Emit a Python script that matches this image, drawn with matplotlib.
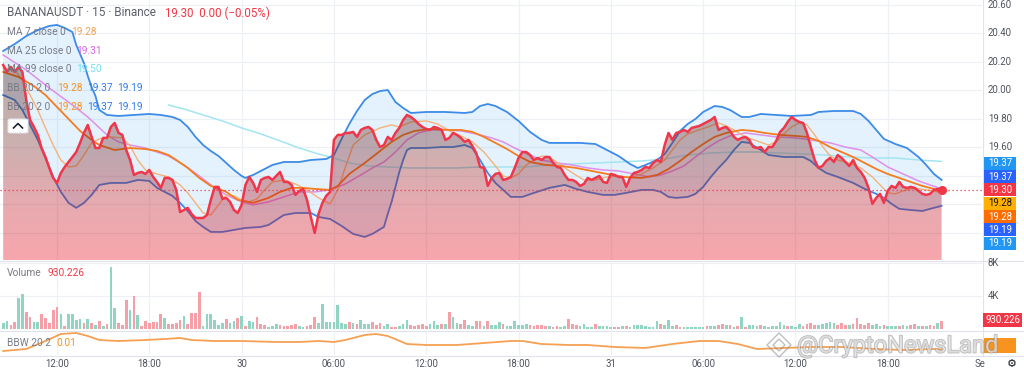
import numpy as np
import matplotlib
matplotlib.use("Agg")
import matplotlib.pyplot as plt
from matplotlib.patches import Rectangle, FancyBboxPatch, Polygon
from matplotlib.lines import Line2D
from matplotlib.transforms import blended_transform_factory as blend
import matplotlib.patheffects as pe

plt.rcParams['font.family'] = ['Roboto', 'DejaVu Sans']

# ---------------------------------------------------------------- data
symbol_title = "BANANAUSDT · 15 · Binance"
change_text = "19.30  0.00 (\u22120.05%)"

time_tick_idx = [14, 38, 62, 86, 110, 134, 158, 182, 206, 230, 254]
time_tick_labels = ["12:00", "18:00", "30", "06:00", "12:00", "18:00", "31",
                    "06:00", "12:00", "18:00", "Se"]
price_ticks = [20.60, 20.40, 20.20, 20.00, 19.80, 19.60]
price_grid = [20.6, 20.4, 20.2, 20.0, 19.8, 19.6, 19.4, 19.2, 19.0]
vol_ticks = [8000, 4000]
vol_tick_labels = ["8K", "4K"]

# close of each 15-min candle (index 0 .. 244)
close = [
    20.179, 20.130, 20.165, 20.130, 20.165, 20.130, 19.933, 19.793, 19.744, 19.688,
    19.596, 19.533, 19.456, 19.386, 19.351, 19.421, 19.463, 19.498, 19.533, 19.568,
    19.632, 19.702, 19.758, 19.674, 19.596, 19.596, 19.667, 19.667, 19.744, 19.772,
    19.702, 19.688, 19.582, 19.512, 19.407, 19.421, 19.428, 19.414, 19.442, 19.393,
    19.358, 19.316, 19.386, 19.386, 19.372, 19.302, 19.147, 19.161, 19.176, 19.133,
    19.105, 19.105, 19.105, 19.126, 19.232, 19.323, 19.323, 19.239, 19.246, 19.218,
    19.161, 19.140, 19.197, 19.337, 19.393, 19.351, 19.288, 19.372, 19.386, 19.393,
    19.372, 19.400, 19.428, 19.358, 19.358, 19.337, 19.267, 19.295, 19.309, 19.232,
    19.112, 19.000, 19.133, 19.211, 19.260, 19.288, 19.653, 19.688, 19.688, 19.702,
    19.702, 19.709, 19.674, 19.723, 19.737, 19.744, 19.723, 19.653, 19.603, 19.617,
    19.674, 19.653, 19.702, 19.737, 19.793, 19.828, 19.814, 19.793, 19.765, 19.744,
    19.730, 19.723, 19.744, 19.737, 19.723, 19.653, 19.667, 19.702, 19.688, 19.667,
    19.639, 19.653, 19.610, 19.561, 19.463, 19.456, 19.330, 19.386, 19.414, 19.421,
    19.372, 19.379, 19.393, 19.456, 19.526, 19.568, 19.568, 19.547, 19.512, 19.526,
    19.512, 19.533, 19.533, 19.491, 19.463, 19.456, 19.407, 19.372, 19.372, 19.358,
    19.330, 19.344, 19.386, 19.372, 19.386, 19.400, 19.358, 19.351, 19.414, 19.407,
    19.393, 19.393, 19.323, 19.386, 19.421, 19.428, 19.442, 19.463, 19.456, 19.491,
    19.512, 19.498, 19.617, 19.702, 19.653, 19.702, 19.709, 19.723, 19.709, 19.737,
    19.744, 19.751, 19.765, 19.779, 19.793, 19.814, 19.723, 19.737, 19.744, 19.716,
    19.674, 19.653, 19.667, 19.674, 19.653, 19.603, 19.596, 19.603, 19.568, 19.603,
    19.603, 19.646, 19.709, 19.737, 19.779, 19.814, 19.793, 19.779, 19.772, 19.702,
    19.603, 19.512, 19.456, 19.470, 19.505, 19.526, 19.498, 19.547, 19.526, 19.498,
    19.470, 19.512, 19.456, 19.428, 19.386, 19.316, 19.204, 19.246, 19.274, 19.211,
    19.295, 19.330, 19.316, 19.358, 19.323, 19.316, 19.323, 19.316, 19.295, 19.274,
    19.267, 19.274, 19.302, 19.309, 19.302,
]

# Bollinger upper band
upper_idx = [0, 3, 6, 9, 12, 14, 16, 18, 19, 20, 21, 22, 23, 24, 25, 27, 30, 34, 38, 41,
             44, 46, 48, 50, 52, 54, 56, 58, 60, 62, 63, 65, 67, 70, 73, 77, 80, 84, 86, 88,
             90, 92, 94, 96, 98, 100, 102, 104, 106, 110, 115, 120, 122, 124, 126, 128, 131, 134, 137, 140,
             142, 146, 150, 154, 157, 160, 163, 165, 167, 170, 172, 174, 176, 178, 180, 182, 185, 187, 189, 192,
             194, 197, 201, 205, 210, 212, 216, 221, 223, 225, 227, 229, 232, 235, 238, 240, 242, 244]
upper = [20.277, 20.326, 20.382, 20.424, 20.453, 20.460, 20.439, 20.410, 20.319, 20.256,
         20.193, 20.102, 20.024, 19.961, 19.863, 19.828, 19.821, 19.828, 19.835, 19.828,
         19.814, 19.793, 19.744, 19.674, 19.617, 19.575, 19.540, 19.491, 19.442, 19.400,
         19.386, 19.407, 19.435, 19.477, 19.498, 19.498, 19.512, 19.519, 19.547, 19.660,
         19.765, 19.856, 19.933, 19.975, 19.996, 20.003, 19.919, 19.877, 19.842, 19.849,
         19.849, 19.842, 19.849, 19.891, 19.905, 19.891, 19.849, 19.786, 19.709, 19.653,
         19.632, 19.632, 19.632, 19.624, 19.582, 19.540, 19.484, 19.456, 19.477, 19.512,
         19.554, 19.632, 19.716, 19.765, 19.800, 19.849, 19.891, 19.884, 19.863, 19.814,
         19.814, 19.835, 19.828, 19.821, 19.828, 19.849, 19.856, 19.856, 19.835, 19.786,
         19.723, 19.660, 19.624, 19.596, 19.533, 19.477, 19.414, 19.372]

# Bollinger lower band
lower_idx = [0, 3, 5, 7, 9, 11, 13, 15, 17, 19, 21, 23, 25, 28, 32, 35, 38, 40, 42, 44,
             46, 48, 50, 52, 54, 57, 60, 63, 67, 69, 71, 73, 76, 80, 82, 85, 88, 91, 94, 96,
             99, 100, 101, 102, 103, 104, 105, 106, 110, 114, 117, 120, 122, 124, 126, 128, 130, 132, 135, 138,
             142, 146, 149, 152, 156, 159, 162, 166, 169, 171, 173, 175, 178, 180, 182, 184, 186, 188, 190, 192,
             194, 197, 199, 203, 208, 210, 212, 214, 217, 221, 224, 227, 229, 231, 233, 236, 239, 241, 243, 244]
lower = [19.968, 19.933, 19.863, 19.758, 19.653, 19.526, 19.393, 19.288, 19.211, 19.176,
         19.211, 19.267, 19.337, 19.351, 19.351, 19.372, 19.365, 19.316, 19.288, 19.260,
         19.211, 19.154, 19.084, 19.042, 19.007, 19.007, 19.021, 19.035, 19.042, 19.056,
         19.091, 19.126, 19.140, 19.140, 19.112, 19.098, 19.049, 18.993, 18.972, 18.993,
         19.042, 19.133, 19.218, 19.323, 19.428, 19.512, 19.582, 19.596, 19.596, 19.603,
         19.603, 19.617, 19.596, 19.512, 19.421, 19.351, 19.302, 19.253, 19.253, 19.281,
         19.316, 19.337, 19.309, 19.288, 19.267, 19.267, 19.281, 19.302, 19.302, 19.288,
         19.253, 19.246, 19.253, 19.274, 19.323, 19.393, 19.456, 19.512, 19.582, 19.639,
         19.632, 19.582, 19.547, 19.533, 19.533, 19.505, 19.456, 19.421, 19.393, 19.351,
         19.309, 19.274, 19.246, 19.204, 19.169, 19.161, 19.154, 19.169, 19.183, 19.190]

# Bollinger basis (SMA 20)
basis_idx = [0, 4, 8, 11, 14, 17, 20, 23, 25, 29, 33, 37, 40, 43, 45, 48, 51, 54, 58, 61,
             65, 69, 72, 75, 78, 81, 85, 87, 90, 94, 98, 101, 104, 107, 111, 116, 119, 122, 125, 128,
             131, 134, 137, 141, 145, 149, 153, 157, 161, 166, 170, 173, 176, 179, 182, 185, 188, 192, 195, 198,
             202, 206, 209, 212, 215, 218, 221, 224, 227, 230, 233, 236, 239, 242, 244]
basis = [20.130, 20.095, 20.031, 19.968, 19.884, 19.800, 19.716, 19.653, 19.617, 19.582,
         19.596, 19.589, 19.575, 19.547, 19.512, 19.456, 19.386, 19.330, 19.288, 19.232,
         19.211, 19.246, 19.288, 19.316, 19.316, 19.309, 19.302, 19.330, 19.414, 19.491,
         19.575, 19.639, 19.688, 19.716, 19.730, 19.723, 19.723, 19.709, 19.674, 19.632,
         19.589, 19.540, 19.498, 19.477, 19.470, 19.456, 19.435, 19.414, 19.393, 19.386,
         19.407, 19.449, 19.505, 19.568, 19.624, 19.674, 19.702, 19.723, 19.716, 19.702,
         19.688, 19.681, 19.674, 19.646, 19.603, 19.568, 19.533, 19.491, 19.449, 19.414,
         19.386, 19.358, 19.330, 19.309, 19.282]

# MA 25
ma25_idx = [0, 6, 12, 18, 22, 27, 30, 33, 37, 40, 43, 47, 51, 54, 58, 62, 65, 69, 73, 77,
            81, 85, 89, 93, 96, 99, 102, 105, 108, 111, 115, 119, 123, 127, 130, 133, 137, 140, 144, 148,
            152, 156, 160, 164, 168, 171, 174, 177, 180, 183, 186, 189, 193, 197, 201, 206, 210, 215, 219, 223,
            226, 230, 234, 238, 241, 244]
ma25 = [20.249, 20.144, 20.017, 19.898, 19.814, 19.688, 19.639, 19.617, 19.596, 19.568,
        19.540, 19.477, 19.400, 19.337, 19.267, 19.218, 19.197, 19.218, 19.253, 19.288,
        19.288, 19.302, 19.344, 19.407, 19.456, 19.498, 19.568, 19.653, 19.702, 19.723,
        19.723, 19.716, 19.695, 19.667, 19.639, 19.596, 19.547, 19.512, 19.491, 19.477,
        19.456, 19.442, 19.435, 19.414, 19.393, 19.407, 19.435, 19.470, 19.533, 19.596,
        19.646, 19.681, 19.702, 19.688, 19.674, 19.667, 19.653, 19.632, 19.603, 19.582,
        19.533, 19.463, 19.414, 19.365, 19.337, 19.309]

# MA 99
ma99_idx = [43, 47, 52, 57, 62, 67, 72, 77, 82, 86, 90, 95, 100, 106, 112, 118, 124, 130, 136, 142,
            148, 154, 160, 166, 172, 178, 184, 190, 196, 202, 208, 214, 220, 226, 232, 238, 244]
ma99 = [19.898, 19.870, 19.828, 19.786, 19.737, 19.695, 19.646, 19.596, 19.554, 19.526,
        19.491, 19.470, 19.463, 19.456, 19.456, 19.456, 19.463, 19.463, 19.463, 19.477,
        19.484, 19.491, 19.498, 19.505, 19.519, 19.547, 19.561, 19.568, 19.568, 19.561,
        19.554, 19.547, 19.533, 19.526, 19.526, 19.512, 19.502]

# MA 7
ma7_idx = [0, 3, 5, 7, 9, 11, 13, 15, 17, 19, 21, 23, 25, 28, 31, 33, 35, 37, 40, 43,
           46, 48, 50, 52, 54, 56, 58, 60, 62, 64, 66, 68, 70, 73, 76, 79, 82, 85, 87, 89,
           91, 94, 98, 101, 103, 106, 110, 113, 116, 119, 122, 125, 128, 130, 132, 134, 136, 138, 140, 142,
           145, 148, 151, 154, 157, 160, 163, 166, 169, 172, 174, 176, 178, 181, 184, 186, 188, 190, 193, 196,
           199, 201, 203, 205, 207, 209, 211, 213, 215, 217, 220, 223, 226, 228, 230, 232, 234, 237, 240, 242,
           244]
ma7 = [20.158, 20.144, 20.074, 19.968, 19.863, 19.737, 19.617, 19.512, 19.463, 19.470,
       19.547, 19.632, 19.660, 19.674, 19.667, 19.610, 19.512, 19.442, 19.414, 19.393,
       19.337, 19.281, 19.211, 19.140, 19.126, 19.197, 19.267, 19.260, 19.232, 19.218,
       19.239, 19.302, 19.358, 19.372, 19.344, 19.302, 19.246, 19.204, 19.302, 19.463,
       19.617, 19.688, 19.737, 19.758, 19.744, 19.779, 19.786, 19.765, 19.716, 19.681,
       19.639, 19.568, 19.470, 19.400, 19.386, 19.414, 19.477, 19.512, 19.540, 19.533,
       19.477, 19.421, 19.372, 19.372, 19.393, 19.400, 19.386, 19.414, 19.456, 19.512,
       19.582, 19.653, 19.695, 19.723, 19.751, 19.772, 19.751, 19.723, 19.674, 19.646,
       19.617, 19.639, 19.695, 19.744, 19.772, 19.758, 19.688, 19.610, 19.540, 19.512,
       19.491, 19.456, 19.393, 19.337, 19.281, 19.274, 19.295, 19.316, 19.302, 19.295,
       19.283]

# volume of each candle and its direction (g = up, p = down)
volume = [
    615, 902, 410, 820, 3770, 4180, 1967, 1352, 820, 820,
    1721, 1311, 615, 2254, 2582, 1721, 287, 1721, 1762, 1025,
    1148, 615, 1148, 615, 410, 902, 287, 492, 7500, 2541,
    697, 410, 3484, 2254, 3975, 1639, 328, 902, 615, 820,
    820, 1721, 1230, 492, 492, 615, 1025, 1516, 492, 1844,
    1926, 4426, 328, 1762, 1762, 1025, 410, 615, 1107, 615,
    943, 1230, 1516, 287, 902, 820, 1352, 492, 410, 205,
    287, 492, 369, 328, 328, 369, 492, 287, 205, 328,
    410, 1434, 615, 2951, 820, 820,
    820, 2869, 615, 533, 820, 615, 533, 1025, 533, 492,
    820, 410, 697, 287, 492, 205, 205, 328, 533, 984,
    410, 287, 410, 574, 287, 492, 902, 410, 533, 574,
    2049, 1352, 615, 533, 984, 410, 287, 902, 902, 287,
    902, 410, 369, 779, 574, 246, 246, 902, 369, 369,
    492, 369, 287, 410, 410, 287, 328, 205, 328, 205,
    246, 1189, 492, 369, 287, 533, 205, 205, 492, 287,
    287, 287, 205, 205, 205, 287, 287, 205, 369, 369,
    369, 287, 205, 205, 902, 492, 410, 1025,
    328, 410, 205, 205, 205, 205, 205, 205, 205, 328,
    287, 287, 410, 492, 451, 410, 205, 287, 1352, 164,
    410, 410, 287, 410, 287, 205, 246, 328, 820, 451,
    328, 287, 205, 492, 328, 533, 615, 410, 410, 574,
    615, 820, 615, 410, 615, 410, 410, 574, 1230, 492,
    410, 615, 369, 492, 287, 369, 287, 287, 328, 328,
    410, 328, 410, 492, 287, 287, 328, 410, 287, 615, 930.226,
]
vol_dir = ("ggppggppgg" "pppppgpggg" "gpgpgpgpgg" "pppgpgpppp" "ppgppppgpp"
           "ppggggggpg" "gpgpggpppg" "ggpppppggp" "ppgggg"
           "ggggpgpggg" "pppggppggg" "pppppgggpg" "pggppggppg" "pgggpggggg"
           "gpppppgppg" "gpppggggpg" "gggppgpggg" "gggggpgg"
           "gppggggggp" "ggppgpgpgp" "gggpgggggg" "pgggppppgg" "gggpppgppp"
           "ppgggpgggp" "ggppgpgppgp")

# Bollinger band width
bbw_idx = [0, 6, 11, 15, 19, 22, 25, 30, 37, 42, 46, 49, 55, 62, 71, 77, 82, 86, 89, 94,
           97, 100, 105, 110, 118, 125, 132, 135, 140, 147, 152, 159, 167, 174, 181, 186, 191, 196, 203, 210,
           218, 227, 234, 242, 244]
bbw = [0.008, 0.014, 0.038, 0.059, 0.062, 0.053, 0.041, 0.038, 0.041, 0.044,
       0.047, 0.041, 0.038, 0.038, 0.035, 0.035, 0.038, 0.035, 0.041, 0.056,
       0.059, 0.053, 0.029, 0.026, 0.026, 0.032, 0.038, 0.038, 0.029, 0.026,
       0.026, 0.020, 0.017, 0.029, 0.038, 0.038, 0.029, 0.014, 0.017, 0.020,
       0.020, 0.014, 0.011, 0.014, 0.013]

# ---------------------------------------------------------------- layout
W, H, DPI = 1024, 371, 100
fig = plt.figure(figsize=(W / DPI, H / DPI), dpi=DPI)
fig.patch.set_facecolor('white')

PLOT_R = 982.0
CANDLE_PX = 3.846
FIRST_PX = 3.16
X0 = -FIRST_PX / CANDLE_PX
X1 = (PLOT_R - FIRST_PX) / CANDLE_PX


def axes_px(top, bottom):
    return fig.add_axes([0, 1 - bottom / H, PLOT_R / W, (bottom - top) / H])


ax_p = axes_px(0, 260)
ax_v = axes_px(261, 330)
ax_b = axes_px(330, 355)
for a in (ax_p, ax_v, ax_b):
    a.set_axis_off()

P_LO, P_HI = 18.810, 20.635

GRID = '#eef0f5'
AXC = '#50535e'
LAB = '#787b86'
RED = '#f23645'
FS = 6.9
LFS = 7.3

# grid
for a in (ax_p, ax_v, ax_b):
    for ti in time_tick_idx[:-1]:
        a.axvline(ti, color=GRID, lw=0.9, zorder=0.5)
for v in price_grid:
    ax_p.axhline(v, color=GRID, lw=0.9, zorder=0.5)
for v in vol_ticks:
    ax_v.axhline(v, color=GRID, lw=0.9, zorder=0.5)

# Bollinger background
px_ = np.concatenate([upper_idx, lower_idx[::-1]])
py_ = np.concatenate([upper, lower[::-1]])
ax_p.fill(px_, py_, color=(33 / 255, 150 / 255, 243 / 255, 0.12), lw=0, zorder=1)

# indicator lines
ax_p.plot(ma99_idx, ma99, color='#a3e5f0', lw=1.1, zorder=2)
ax_p.plot(ma25_idx, ma25, color='#e08fea', lw=1.1, zorder=2)
ax_p.plot(ma7_idx, ma7, color='#f7b27a', lw=1.0, zorder=2)
ax_p.plot(basis_idx, basis, color='#f57c1f', lw=1.3, zorder=2)
ax_p.plot(lower_idx, lower, color='#3d8be8', lw=1.3, zorder=2)
ax_p.plot(upper_idx, upper, color='#3d8be8', lw=1.3, zorder=2)

# area under the close (vertical gradient)
idx = np.arange(len(close))
n = 260
rows = np.linspace(0, 260, n)
stop_rows = [0, 40, 140, 200, 260]
stop_rgb = np.array([[40, 10, 8], [40, 10, 8], [105, 30, 28], [180, 14, 30], [232, 0, 18]]) / 255.0
grad = np.zeros((n, 1, 4))
for k in range(3):
    grad[:, 0, k] = np.interp(rows, stop_rows, stop_rgb[:, k])
grad[:, 0, 3] = 0.35
im = ax_p.imshow(grad, extent=(X0, X1, P_LO, P_HI), aspect='auto', origin='upper',
                 interpolation='bilinear', zorder=3)
verts = [(idx[0], P_LO)] + list(zip(idx, close)) + [(idx[-1], P_LO)]
clip = Polygon(verts, closed=True, transform=ax_p.transData, facecolor='none', edgecolor='none')
ax_p.add_patch(clip)
im.set_clip_path(clip)

# last price dotted line, close line, last dot
ax_p.axhline(close[-1], color=RED, lw=0.9, ls=(0, (1, 2.2)), zorder=4)
ax_p.plot(idx, close, color='#f0364a', lw=1.8, zorder=5, solid_joinstyle='round')
ax_p.plot(idx[-1], close[-1], 'o', ms=5.5, color=RED, zorder=6)

ax_p.set_xlim(X0, X1)
ax_p.set_ylim(P_LO, P_HI)

# volume
vcols = ['#8fd5c2' if d == 'g' else '#f5a0a9' for d in vol_dir]
ax_v.bar(np.arange(len(volume)), volume, width=0.7, color=vcols, lw=0, zorder=2)
ax_v.set_xlim(X0, X1)
ax_v.set_ylim(-184, 8282)

# BBW
ax_b.plot(bbw_idx, bbw, color='#f5a053', lw=1.3, zorder=2)
ax_b.set_xlim(X0, X1)
ax_b.set_ylim(-0.004, 0.071)

# ---------------------------------------------------------------- axes text
xa = 988 / PLOT_R
tr_p = blend(ax_p.transAxes, ax_p.transData)
for v in price_ticks:
    ax_p.text(xa, v, f"{v:.2f}", transform=tr_p, ha='left', va='center',
              fontsize=FS, color=AXC, clip_on=False)
tr_v = blend(ax_v.transAxes, ax_v.transData)
for v, lab in zip(vol_ticks, vol_tick_labels):
    ax_v.text(xa, v, lab, transform=tr_v, ha='left', va='center',
              fontsize=FS, color=AXC, clip_on=False)
tr_t = blend(ax_b.transData, fig.transFigure)
for ti, lab in zip(time_tick_idx, time_tick_labels):
    ax_b.text(ti, 1 - 364 / H, lab, transform=tr_t, ha='center', va='center',
              fontsize=FS, color=AXC, clip_on=False)

# right-scale value badges (stacked around the last price)
y_last = H - ax_p.transData.transform((0, close[-1]))[1]
BOX_X0, BOX_W, BOX_H, STEP = 984, 32, 13, 13.3


def badge(yc, text, face, tc, x0=BOX_X0, w=BOX_W, h=BOX_H):
    fig.add_artist(Rectangle((x0 / W, 1 - (yc + h / 2) / H), w / W, h / H,
                             transform=fig.transFigure, facecolor=face,
                             edgecolor='none', zorder=20))
    if text:
        fig.text((x0 + w / 2) / W, 1 - yc / H, text, ha='center', va='center',
                 fontsize=FS, color=tc, zorder=21)


badges = [
    (upper[-1], '#2196f3', 'white'),
    (upper[-1], '#2962ff', 'white'),
    (close[-1], RED, 'white'),
    (basis[-1], '#ffb000', '#131722'),
    (basis[-1], '#ff6d00', 'white'),
    (lower[-1], '#2962ff', 'white'),
    (lower[-1], '#2196f3', 'white'),
]
for k, (val, face, tc) in enumerate(badges):
    badge(y_last + (k - 2) * STEP, f"{val:.2f}", face, tc)

badge(320, f"{volume[-1]:.3f}", RED, 'white', x0=983, w=39, h=14)
# BBW badge on the scale (its value is hidden under the watermark)
badge(345, "", '#f7931e', 'white', x0=984, w=32, h=15)

# ---------------------------------------------------------------- legend text


def t(x, y, s, color, size=LFS, **kw):
    fig.text(x / W, 1 - y / H, s, color=color, fontsize=size, ha='left',
             va='center', zorder=22, **kw)


t(7, 13, symbol_title, '#5d606b', 8.5)
t(165, 13, change_text, RED, 8.3)
t(7, 32, "MA 7 close 0", LAB)
t(71, 32, f"{ma7[-1]:.2f}", '#f5a35a')
t(7, 51, "MA 25 close 0", LAB)
t(76, 51, f"{ma25[-1]:.2f}", '#dc62e4')
t(7, 69, "MA 99 close 0", LAB)
t(76, 69, f"{ma99[-1]:.2f}", '#78def0')
for yy in (88, 107):
    t(7, yy, "BB 20 2 0", LAB)
    t(57, yy, f"{basis[-1]:.2f}", '#f7931e')
    t(87, yy, f"{upper[-1]:.2f}", '#2f7cf0')
    t(117, yy, f"{lower[-1]:.2f}", '#2f7cf0')
t(7, 273, "Volume", LAB)
t(47, 273, f"{volume[-1]:.3f}", RED)
t(7, 343, "BBW 20 2", LAB)
t(56, 343, f"{bbw[-1]:.2f}", '#f7931e')

# collapse button
fig.add_artist(FancyBboxPatch((8 / W, 1 - 133 / H), 20 / W, 14 / H,
                              boxstyle='round,pad=0,rounding_size=0.003',
                              transform=fig.transFigure, facecolor='white',
                              edgecolor='#e0e3eb', lw=0.8, zorder=25))
fig.add_artist(Line2D([13.5 / W, 18 / W, 22.5 / W], [1 - 128 / H, 1 - 123.5 / H, 1 - 128 / H],
                      transform=fig.transFigure, color='#131722', lw=1.1, zorder=26))

# separators (drawn beneath the panes' content)
SEP = '#e0e3eb'
for yy in (260.5, 330.5, 355.5):
    fig.add_artist(Line2D([0, 1], [1 - yy / H] * 2, transform=fig.transFigure,
                          color=SEP, lw=0.8, zorder=-1))
fig.add_artist(Line2D([982.5 / W] * 2, [1, 1 - 355.5 / H], transform=fig.transFigure,
                      color=SEP, lw=0.8, zorder=-1))

# settings glyph
fig.text(1012 / W, 1 - 364 / H, "\u2699", fontsize=8, family='DejaVu Sans',
         color='#131722', ha='center', va='center', zorder=22)

# watermark


def px_poly(pts, **kw):
    fig.add_artist(Polygon([(x / W, 1 - y / H) for x, y in pts], closed=True,
                           transform=fig.transFigure, **kw))


wm = (0.55, 0.55, 0.55, 0.55)
px_poly([(779, 333), (791, 345), (779, 357), (767, 345)], fill=False, edgecolor=wm, lw=1.0, zorder=30)
px_poly([(779, 339), (785, 345), (779, 351), (773, 345)], fill=False, edgecolor=wm, lw=1.0, zorder=30)
fig.text(797 / W, 1 - 346 / H, "@CryptoNewsLand", fontsize=17, color=(1, 1, 1, 0.45),
         ha='left', va='center', zorder=30,
         path_effects=[pe.withStroke(linewidth=1.3, foreground=wm)])

fig.savefig("out.png", dpi=DPI, facecolor='white')
